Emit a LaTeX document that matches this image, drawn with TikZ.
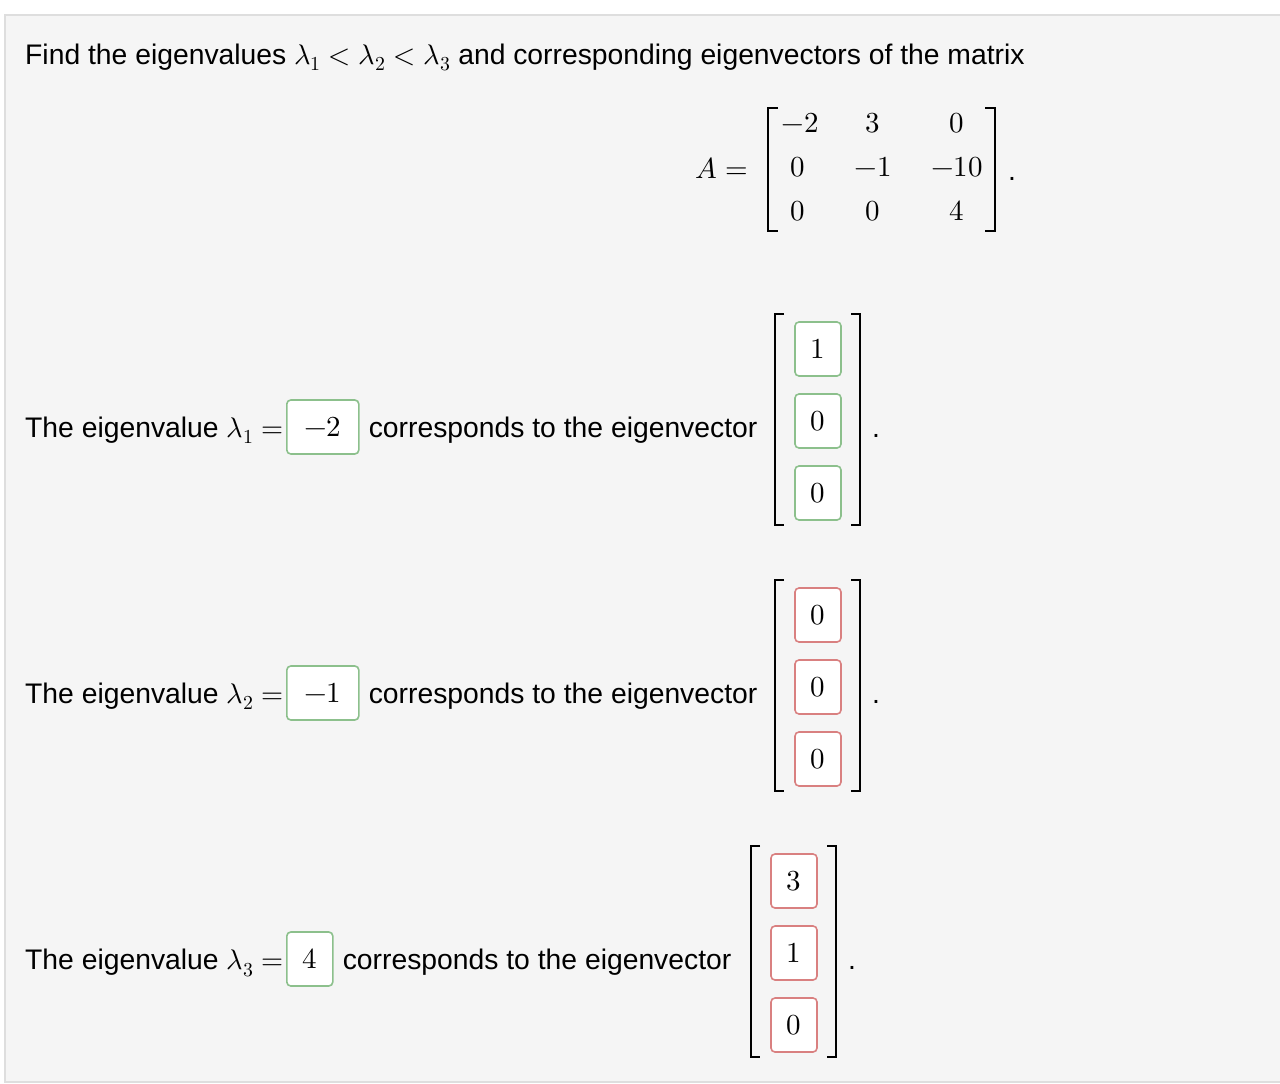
\documentclass[tikz,border=0pt]{standalone}
\usepackage{fontspec}
\usepackage{unicode-math}
\setmainfont{Liberation Sans}
\setmathfont{Latin Modern Math}
\begin{document}
\begin{tikzpicture}[x=1pt,y=-1pt,
  txt/.style={anchor=base west,inner sep=0pt,font=\fontsize{28.3}{34}\selectfont},
  ent/.style={inner sep=0pt,font=\fontsize{29}{34}\selectfont},
  okbox/.style={draw=green!45!black!45!white,fill=white,line width=1.6pt,rounded corners=4pt,minimum height=54pt,inner sep=0pt,font=\fontsize{29}{34}\selectfont},
  badbox/.style={okbox,draw=red!70!black!50!white},
  brk/.style={line width=2.4pt}]
\useasboundingbox (0,0) rectangle (1280,1084);
\fill[white] (0,0) rectangle (1280,1084);
\draw[fill=black!4,draw=black!13,line width=1.2pt] (5,15) rectangle (1282,1082);
\node[txt] (title) at (25,64) {Find the eigenvalues $\lambda_1<\lambda_2<\lambda_3$ and corresponding eigenvectors of the matrix};
% matrix A
\node[ent,anchor=east] (A) at (748,168) {$A=$};
\node[ent] (a11) at (800,123) {$-2$};
\node[ent] (a12) at (873,123) {$3$};
\node[ent] (a13) at (957,123) {$0$};
\node[ent] (a21) at (798,167) {$0$};
\node[ent] (a22) at (873,167) {$-1$};
\node[ent] (a23) at (957,167) {$-10$};
\node[ent] (a31) at (798,211) {$0$};
\node[ent] (a32) at (873,211) {$0$};
\node[ent] (a33) at (957,211) {$4$};
\draw[brk] (778,108) -- (768,108) -- (768,231) -- (778,231);
\draw[brk] (985,108) -- (995,108) -- (995,231) -- (985,231);
\node[txt] (dotA) at (1008,180) {.};
% rows
\foreach \i/\yb/\yc/\val/\bw/\bx/\vx/\st/\aa/\bb/\cc in
 {1/437/427/{-2}/72/286/775/okbox/1/0/0,
  2/703/693/{-1}/72/286/775/badbox/0/0/0,
  3/969/959/{4}/46/286/751/badbox/3/1/0}{
  \node[txt] (t\i) at (25,\yb) {The eigenvalue $\lambda_{\i}=$};
  \node[okbox,minimum width=\bw pt,anchor=west] (in\i) at (\bx,\yc) {$\val$};
  \node[txt] (c\i) at ([xshift=9pt]in\i.east |- 0,\yb) {corresponds to the eigenvector};
  \node[\st,minimum width=46pt] (v\i a) at (\vx+43,\yc-78) {$\aa$};
  \node[\st,minimum width=46pt] (v\i b) at (\vx+43,\yc-6) {$\bb$};
  \node[\st,minimum width=46pt] (v\i c) at (\vx+43,\yc+66) {$\cc$};
  \draw[brk] (\vx+9,\yc-113) -- (\vx,\yc-113) -- (\vx,\yc+98) -- (\vx+9,\yc+98);
  \draw[brk] (\vx+76,\yc-113) -- (\vx+85,\yc-113) -- (\vx+85,\yc+98) -- (\vx+76,\yc+98);
  \node[txt] (d\i) at (\vx+97,\yb) {.};
}
\end{tikzpicture}
\end{document}
